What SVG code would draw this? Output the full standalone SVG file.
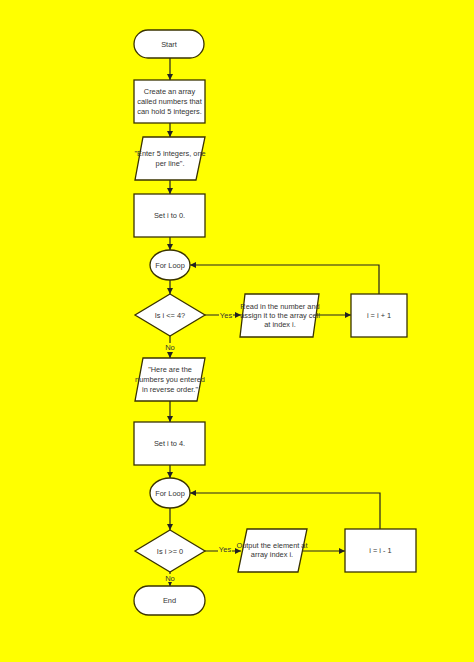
<svg xmlns="http://www.w3.org/2000/svg" width="474" height="662" viewBox="0 0 474 662">
<style>
.n{fill:#fff;stroke:#3a3300;stroke-width:1.3}
.t{font-family:"Liberation Sans",Arial,sans-serif;font-size:7.4px;fill:#333;text-anchor:middle}
.c{fill:none;stroke:#222;stroke-width:1.2}
.l{font-family:"Liberation Sans",Arial,sans-serif;font-size:7.6px;fill:#333;text-anchor:middle}
</style>
<defs>
<marker id="a" viewBox="0 0 10 10" refX="10" refY="5" markerWidth="7" markerHeight="6" orient="auto" markerUnits="userSpaceOnUse"><path d="M0,0L10,5L0,10z" fill="#222"/></marker>
</defs>
<rect width="474" height="662" fill="#ffff00"/>
<g id="connectors">
<path class="c" d="M170,58V80" marker-end="url(#a)"/>
<path class="c" d="M170,123V137" marker-end="url(#a)"/>
<path class="c" d="M170,180V194" marker-end="url(#a)"/>
<path class="c" d="M170,237V250" marker-end="url(#a)"/>
<path class="c" d="M170,280V294" marker-end="url(#a)"/>
<path class="c" d="M205,315H241" marker-end="url(#a)"/>
<rect x="219" y="311" width="14" height="9" fill="#ffff00"/>
<text class="l" x="226" y="318">Yes</text>
<path class="c" d="M316,315H351" marker-end="url(#a)"/>
<path class="c" d="M379,294V265H190" marker-end="url(#a)"/>
<path class="c" d="M170,336V358" marker-end="url(#a)"/>
<rect x="164" y="343" width="12" height="9" fill="#ffff00"/>
<text class="l" x="170" y="350">No</text>
<path class="c" d="M170,401V422" marker-end="url(#a)"/>
<path class="c" d="M170,465V478" marker-end="url(#a)"/>
<path class="c" d="M170,508V530" marker-end="url(#a)"/>
<path class="c" d="M205,551H241" marker-end="url(#a)"/>
<rect x="218" y="545" width="14" height="9" fill="#ffff00"/>
<text class="l" x="225" y="552">Yes</text>
<path class="c" d="M303,551H345" marker-end="url(#a)"/>
<path class="c" d="M380,529V493H190" marker-end="url(#a)"/>
<path class="c" d="M170,572V586" marker-end="url(#a)"/>
<rect x="164" y="574" width="12" height="8" fill="#ffff00"/>
<text class="l" x="170" y="581">No</text>
</g>
<g id="start"><rect class="n" x="134" y="30" width="70" height="28" rx="14"/><text class="t" x="169" y="47">Start</text></g>
<g id="create"><rect class="n" x="134" y="80" width="71" height="43"/><text class="t" x="169.5" y="94">Create an array</text><text class="t" x="169.5" y="104">called numbers that</text><text class="t" x="169.5" y="114">can hold 5 integers.</text></g>
<g id="prompt1"><polygon class="n" points="143,137 205,137 196,180 135,180"/><text class="t" x="170" y="156">"Enter 5 integers, one</text><text class="t" x="170" y="166">per line".</text></g>
<g id="set0"><rect class="n" x="134" y="194" width="71" height="43"/><text class="t" x="169.5" y="218">Set i to 0.</text></g>
<g id="loop1"><ellipse class="n" cx="170" cy="265" rx="20" ry="15"/><text class="t" x="170" y="268">For Loop</text></g>
<g id="cond1"><polygon class="n" points="170,294 205,315 170,336 135,315"/><text class="t" x="170" y="318">Is i &lt;= 4?</text></g>
<g id="read"><polygon class="n" points="245,294 319,294 313,337 240,337"/><text class="t" x="280" y="309">Read in the number and</text><text class="t" x="280" y="318">assign it to the array cell</text><text class="t" x="280" y="327">at index i.</text></g>
<g id="inc"><rect class="n" x="351" y="294" width="56" height="43"/><text class="t" x="379" y="318">i = i + 1</text></g>
<g id="prompt2"><polygon class="n" points="143,358 205,358 197,401 135,401"/><text class="t" x="170" y="372">"Here are the</text><text class="t" x="170" y="382">numbers you entered</text><text class="t" x="170" y="392">in reverse order."</text></g>
<g id="set4"><rect class="n" x="134" y="422" width="71" height="43"/><text class="t" x="169.5" y="446">Set i to 4.</text></g>
<g id="loop2"><ellipse class="n" cx="170" cy="493" rx="20" ry="15"/><text class="t" x="170" y="496">For Loop</text></g>
<g id="cond2"><polygon class="n" points="170,530 205,551 170,572 135,551"/><text class="t" x="170" y="554">Is i &gt;= 0</text></g>
<g id="output"><polygon class="n" points="247,529 307,529 298,572 238,572"/><text class="t" x="272" y="548">Output the element at</text><text class="t" x="272" y="557">array index i.</text></g>
<g id="dec"><rect class="n" x="345" y="529" width="71" height="43"/><text class="t" x="380.5" y="553">i = i - 1</text></g>
<g id="end"><rect class="n" x="134" y="586" width="71" height="29" rx="14.5"/><text class="t" x="169.5" y="603">End</text></g>
</svg>
